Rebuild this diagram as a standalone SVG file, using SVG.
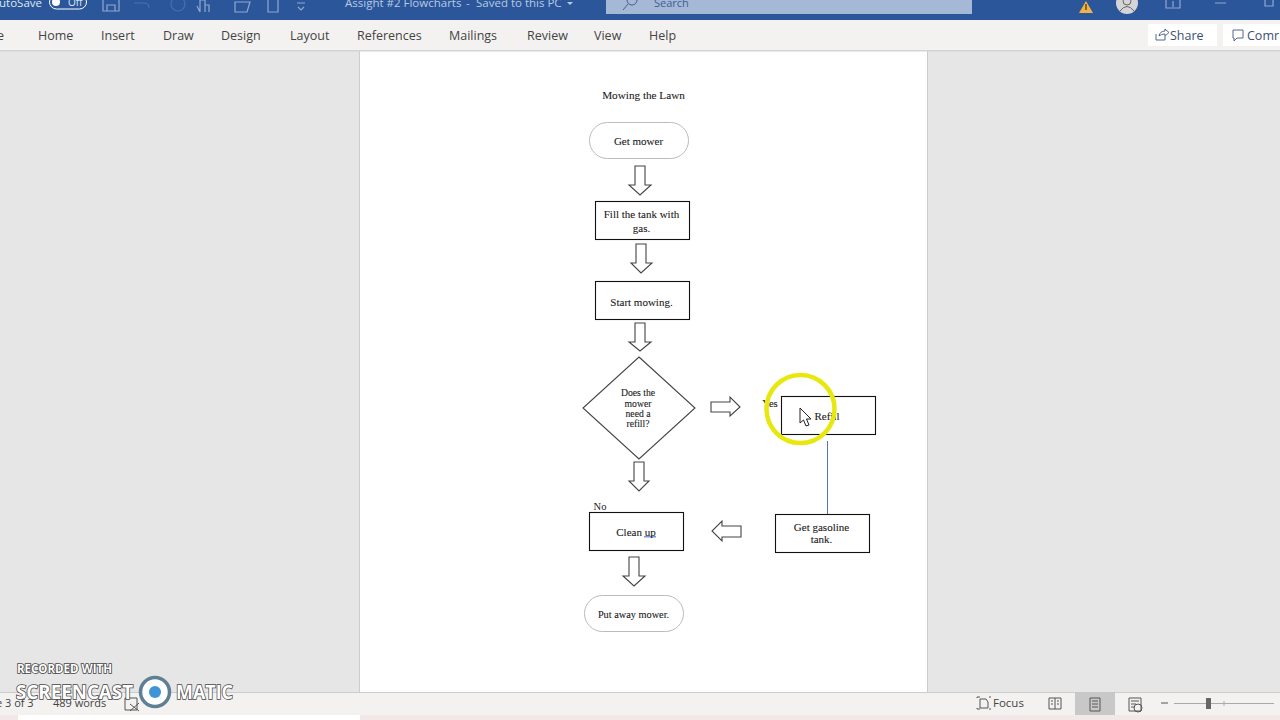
<svg xmlns="http://www.w3.org/2000/svg" width="1280" height="720" viewBox="0 0 1280 720">
<style>
.ui{font-family:"Open Sans","Noto Sans","Liberation Sans",sans-serif;font-size:12.5px;fill:#444}
.tb{font-family:"Open Sans","Noto Sans","Liberation Sans",sans-serif;font-size:11.500px;fill:#b9c9e2}
.t{font-family:"Liberation Serif","Times New Roman",serif;font-size:11px;fill:#222;stroke:#222;stroke-width:.1;text-anchor:middle}
.s{font-size:9.700px}
.box{fill:#fff;stroke:#111;stroke-width:1.100}
.pill{fill:#fff;stroke:#bbb;stroke-width:1}
.arr{fill:#fff;stroke:#444;stroke-width:1.100}
.ic{fill:none;stroke:#8fa8cf;stroke-width:1.200}
.st{fill:none;stroke:#555;stroke-width:1}
.wm{font-family:"Open Sans","Liberation Sans",sans-serif;font-weight:700;fill:#fff;stroke:#444;stroke-width:1.600;paint-order:stroke}
</style>
<rect width="1280" height="720" fill="#e6e6e6"/>
<g id="page"><rect x="360" y="50" width="567" height="643" fill="#fff"/><path d="M359.500 50V692M927.500 50V692" stroke="#ccc"/></g>
<g id="titlebar">
<rect width="1280" height="20" fill="#2b579a"/>
<text class="tb" x="-1" y="7" style="fill:#dfe7f3">utoSave</text>
<rect x="49.500" y="-5" width="37" height="14" rx="7" fill="none" stroke="#fff"/>
<circle cx="56" cy="2" r="4" fill="#fff"/>
<text class="tb" x="68" y="6" style="font-size:10px;fill:#dfe7f3">Off</text>
<path class="ic" d="M103 -2H119V11H103Z M107 5H115V11H107Z"/>
<circle class="ic" cx="178" cy="4" r="7" opacity=".3"/>
<path class="ic" d="M134 3h10q5 0 5 5" opacity=".3"/>
<path class="ic" d="M200 12V0h5V12M197 6l3 6M205 5h4v7"/>
<path class="ic" d="M235 12V2H250L247 12Z M278 0V12H268V0"/>
<path class="ic" d="M297 3h8M298 7l3 3 3-3"/>
<text class="tb" x="345" y="7">Assight #2 Flowcharts</text>
<text class="tb" x="466" y="7">-</text>
<text class="tb" x="476" y="7">Saved to this PC</text>
<path d="M567 2h6l-3 3z" fill="#b9c9e2"/>
<rect x="606" y="0" width="366" height="14" fill="#a5b9d6"/>
<circle class="st" cx="632" cy="0" r="5" style="stroke:#3f5f94"/>
<path d="M628 4l-5 6" stroke="#3f5f94"/>
<text x="654" y="7" style="font-family:'Open Sans',sans-serif;font-size:11px;fill:#3f5f94">Search</text>
<path d="M1086 1l7 12h-14z" fill="#f0b34a"/><path d="M1086 4v6" stroke="#6b4a10" stroke-width="1.500"/>
<circle cx="1127" cy="3" r="11" fill="#d5d5d8"/><circle cx="1127" cy="1" r="4" fill="none" stroke="#666"/><path d="M1120 11q7-9 14 0" fill="none" stroke="#666"/>
<path class="ic" d="M1166 0V8H1180V0M1173 7V1"/>
<path class="ic" d="M1215 3H1226M1265 -1H1273V6H1265Z"/>
</g>
<g id="ribbon">
<rect y="20" width="1280" height="30" fill="#f3f2f1"/>
<rect y="50" width="1280" height="1.500" fill="#d4d4d4"/>
<text class="ui" x="-3" y="40">e</text>
<text class="ui" x="38" y="40">Home</text>
<text class="ui" x="101" y="40">Insert</text>
<text class="ui" x="163" y="40">Draw</text>
<text class="ui" x="221" y="40">Design</text>
<text class="ui" x="290" y="40">Layout</text>
<text class="ui" x="357" y="40">References</text>
<text class="ui" x="449" y="40">Mailings</text>
<text class="ui" x="527" y="40">Review</text>
<text class="ui" x="594" y="40">View</text>
<text class="ui" x="649" y="40">Help</text>
<rect x="1148" y="24" width="69" height="22" fill="#fff"/>
<path d="M1156 34v6h9v-4M1159 36q1-5 6-5v-2l4 3.500-4 3.500v-2q-4 0-6 2" fill="none" stroke="#56698c"/>
<text class="ui" x="1170" y="40" style="fill:#3c4f70">Share</text>
<rect x="1223" y="24" width="57" height="22" fill="#fff"/>
<path d="M1233 30h10v8h-6l-3 3v-3h-1z" fill="none" stroke="#56698c"/>
<text class="ui" x="1247" y="40" style="fill:#3c4f70">Comr</text>
</g>
<g id="connectors">
<path class="arr" d="M635 166H645V185H651L640 195L629 185H635Z"/>
<path class="arr" d="M636 244H646V263H652L641 273L631 263H636Z"/>
<path class="arr" d="M635 323H645V342H651L640 351L629 342H635Z"/>
<path class="arr" d="M634 462H644V481H649L639 491L629 481H634Z"/>
<path class="arr" d="M711 402H730V397L740 407L730 416V412H711Z"/>
<path class="arr" d="M741 526H722V521L712 531L722 541V537H741Z"/>
<path class="arr" d="M629 557H639V576H645L634 586L623 576H629Z"/>
<path d="M827.500 441V515" stroke="#4f78a8" stroke-width="1"/>
</g>
<g id="title"><text class="t" x="643.500" y="99" style="font-size:11.200px">Mowing the Lawn</text></g>
<g id="n1"><rect class="pill" x="589.500" y="122.500" width="99" height="36" rx="18"/><text class="t" x="638.500" y="144.500">Get mower</text></g>
<g id="n2"><rect class="box" x="595.500" y="201.500" width="94" height="38"/><text class="t" x="641.500" y="218">Fill the tank with</text><text class="t" x="641.500" y="232">gas.</text></g>
<g id="n3"><rect class="box" x="595.500" y="281.500" width="94" height="38"/><text class="t" x="641.500" y="305.500">Start mowing.</text></g>
<g id="n4"><path d="M639 357L695 408L639 459L583 408Z" fill="#fff" stroke="#444" stroke-width="1.100"/>
<text class="t s" x="638" y="396">Does the</text><text class="t s" x="638" y="406.500">mower</text><text class="t s" x="638" y="416.500">need a</text><text class="t s" x="638" y="427">refill?</text></g>
<g id="n5"><rect class="box" x="781.500" y="396.500" width="94" height="38"/><text class="t" x="827" y="420">Refill</text></g>
<g id="n6"><rect class="box" x="775.500" y="514.500" width="94" height="38"/><text class="t" x="821.500" y="531">Get gasoline</text><text class="t" x="821.500" y="543">tank.</text></g>
<g id="n7"><rect class="box" x="589.500" y="512.500" width="94" height="38"/><rect x="644" y="536" width="12" height="1.500" fill="#7d9ad8"/><text class="t" x="636" y="535.500">Clean up</text></g>
<g id="n8"><rect class="pill" x="584.500" y="595.500" width="99" height="36" rx="18"/><text class="t" x="633.500" y="617.500" style="font-size:10.300px">Put away mower.</text></g>
<text class="t" x="770" y="407" style="font-size:10.500px">Yes</text>
<text class="t" x="600" y="510" style="font-size:10.500px;stroke-width:0">No</text>
<g id="cursor">
<circle cx="800.500" cy="409" r="34" fill="none" stroke="#e8e80f" stroke-width="4.500"/>
<path d="M800 408V423L803.500 420L806 426L809 425L806.500 419L811 419Z" fill="#fff" stroke="#222" stroke-width="1"/>
</g>
<g id="statusbar">
<rect y="692" width="1280" height="23" fill="#f3f2f1"/>
<path d="M0 692.500H1280" stroke="#ccc"/>
<rect y="715" width="1280" height="5" fill="#f3e8e8"/>
<rect x="18" y="715" width="342" height="5" fill="#fff"/>
<text class="ui" x="-4" y="707" style="font-size:11px">e 3 of 3</text>
<text class="ui" x="53" y="707" style="font-size:11px">489 words</text>
<path class="st" d="M125 698H137V710H125ZM130 704L139 711M139 703L130 711"/>
<path class="st" d="M977 698v-1h3M977 708v1h3M991 697h-2M991 709h-2M980 699h6l2 3v6h-8Z"/>
<text class="ui" x="993" y="707" style="font-size:11.500px">Focus</text>
<path class="st" d="M1049 698H1061V709H1049ZM1055 698V709M1051 701H1053M1051 704H1053M1057 701H1059M1057 704H1059"/>
<rect x="1075" y="692" width="40" height="23" fill="#c8c8c8"/>
<path class="st" d="M1090 698H1100V711H1090ZM1092 701H1098M1092 704H1098M1092 707H1098"/>
<path class="st" d="M1129 698H1141V711H1129ZM1131 701H1139M1131 704H1136M1131 707H1135"/><circle class="st" cx="1138" cy="708" r="4"/>
<path d="M1161 703H1168" stroke="#555"/>
<path d="M1174 703.500H1274M1224 701V706" stroke="#aaa"/>
<rect x="1206" y="698" width="5" height="11" fill="#666"/>
</g>
<g id="watermark">
<text class="wm" x="17" y="673" style="font-size:11.500px">RECORDED WITH</text>
<text class="wm" x="16" y="699" textLength="117" lengthAdjust="spacingAndGlyphs" style="font-size:20px">SCREENCAST</text>
<circle cx="155" cy="692" r="14.500" fill="#fff" stroke="#5f7f95" stroke-width="3.500"/>
<circle cx="155" cy="692" r="6" fill="#3f94d8"/>
<text class="wm" x="176" y="699" textLength="57" lengthAdjust="spacingAndGlyphs" style="font-size:20px">MATIC</text>
</g>
</svg>
